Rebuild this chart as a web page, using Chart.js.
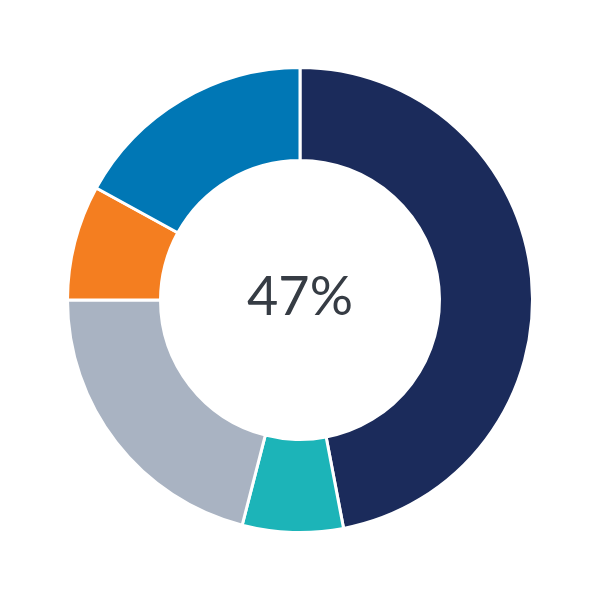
<!DOCTYPE html>
<html>
<head>
<meta charset="utf-8">
<script src="https://cdn.jsdelivr.net/npm/chart.js@4"></script>
<style>
  html, body { margin: 0; padding: 0; background: #fff; }
  #wrap { width: 600px; height: 600px; }
</style>
</head>
<body>
<div id="wrap"><canvas id="donut"></canvas></div>
<script>
const categories = ["A", "B", "C", "D", "E"];
const values = [47, 7, 21, 8, 17];
const colors = ["#1b2b5b", "#1cb4b8", "#a9b3c2", "#f47e20", "#0077b5"];
const centerLabel = "47%";

// draws the big number in the hole
const centerText = {
  id: "centerText",
  afterDraw(chart) {
    const meta = chart.getDatasetMeta(0);
    const arc = meta.data[0];
    if (!arc) return;
    const ctx = chart.ctx;
    ctx.save();
    ctx.font = "400 54px Lato, 'Open Sans', sans-serif";
    ctx.fillStyle = "#363c44";
    ctx.textAlign = "center";
    ctx.textBaseline = "middle";
    ctx.fillText(centerLabel, arc.x, arc.y - 2);
    ctx.restore();
  }
};

document.addEventListener("DOMContentLoaded", () => {
  const ctx = document.getElementById("donut").getContext("2d");
  new Chart(ctx, {
    type: "doughnut",
    data: {
      labels: categories,
      datasets: [{
        data: values,
        backgroundColor: colors,
        borderColor: "#ffffff",
        borderWidth: 3
      }]
    },
    options: {
      responsive: true,
      maintainAspectRatio: false,
      animation: false,
      cutout: "60%",
      layout: { padding: 66 },
      plugins: {
        legend: { display: false },
        tooltip: { enabled: false }
      }
    },
    plugins: [centerText]
  });
});
</script>
</body>
</html>
